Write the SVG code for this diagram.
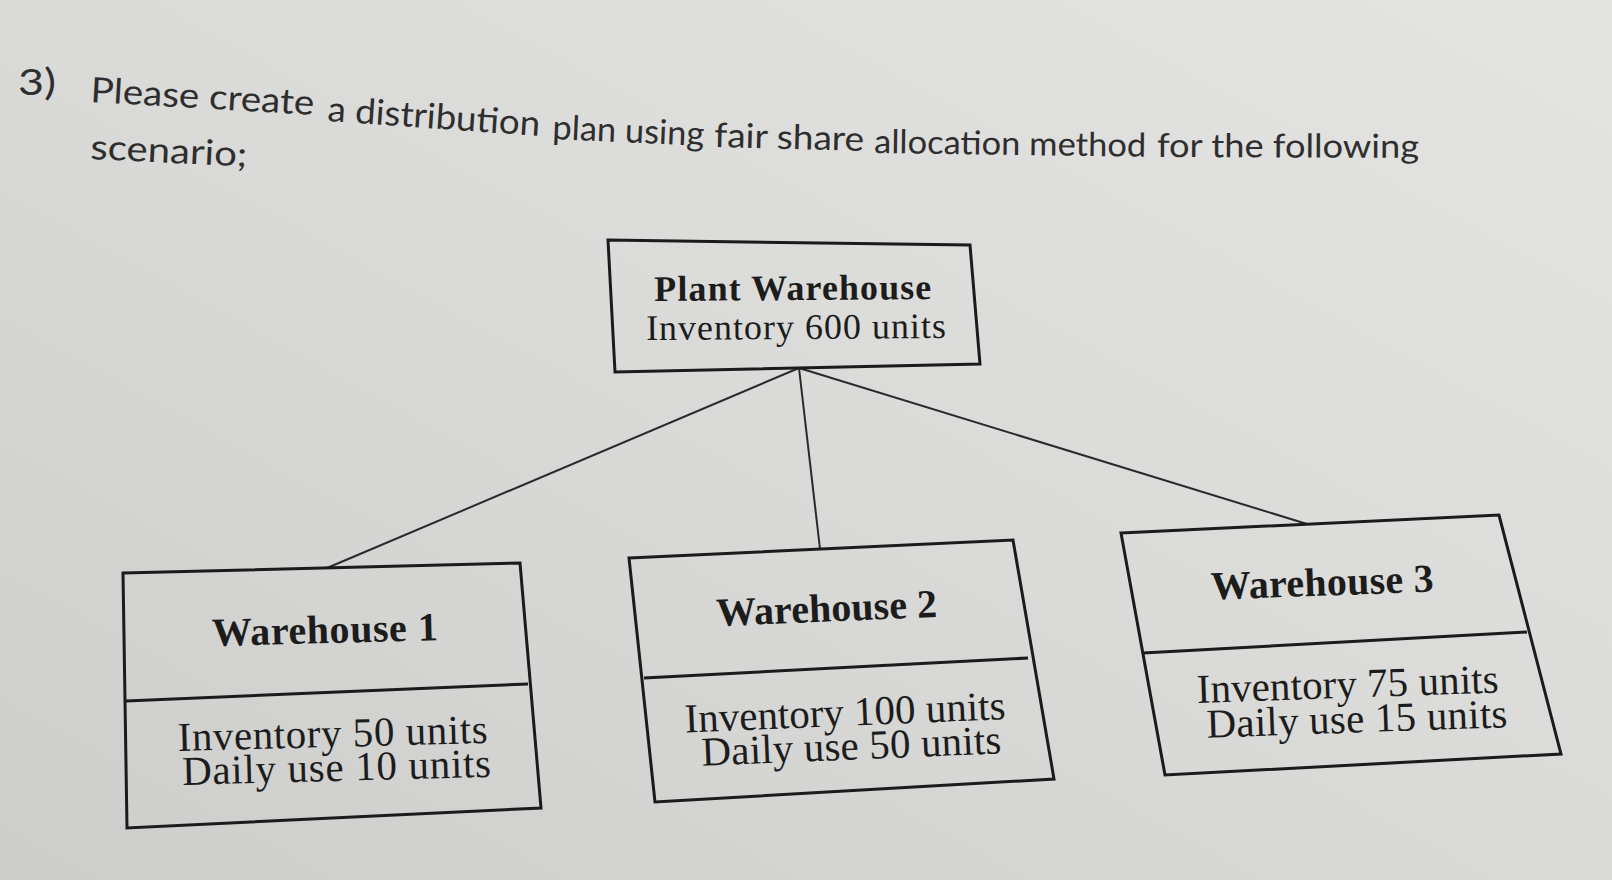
<svg xmlns="http://www.w3.org/2000/svg" width="1612" height="880" viewBox="0 0 1612 880">
  <defs>
    <linearGradient id="page" x1="1" y1="0" x2="0" y2="1">
      <stop offset="0" stop-color="#e4e4e2"/>
      <stop offset="0.5" stop-color="#dadad8"/>
      <stop offset="1" stop-color="#cdcdcb"/>
    </linearGradient>
  </defs>
  <style>
    .box { fill: none; stroke: #1b1b1b; stroke-width: 3; stroke-linejoin: miter; }
    .div { fill: none; stroke: #1b1b1b; stroke-width: 3; }
    .conn { fill: none; stroke: #2a2a2a; stroke-width: 2; }
    .title { font-family: Lato, "Open Sans", "Liberation Sans", sans-serif; fill: #2e2e2e; }
    .head { font-family: "Liberation Serif", "Times New Roman", serif; font-weight: bold; fill: #1c1c1c; text-anchor: middle; }
    .body { font-family: "Liberation Serif", "Times New Roman", serif; fill: #1c1c1c; text-anchor: middle; }
  </style>
  <rect x="0" y="0" width="1612" height="880" fill="url(#page)"/>

  <g id="title">
    <text class="title" x="18" y="95" font-size="37" textLength="38" lengthAdjust="spacingAndGlyphs">3)</text>
    <text class="title" x="90" y="102" font-size="35" textLength="224" lengthAdjust="spacingAndGlyphs" transform="rotate(3.3 90 102)">Please create</text>
    <text class="title" x="327" y="121" font-size="35" textLength="213" lengthAdjust="spacingAndGlyphs" transform="rotate(4 327 121)">a distribution</text>
    <text class="title" x="552" y="139" font-size="34" textLength="152" lengthAdjust="spacingAndGlyphs" transform="rotate(2.6 552 139)">plan using</text>
    <text class="title" x="714" y="147" font-size="34" textLength="150" lengthAdjust="spacingAndGlyphs" transform="rotate(1.5 714 147)">fair share</text>
    <text class="title" x="874" y="153" font-size="33" textLength="272" lengthAdjust="spacingAndGlyphs" transform="rotate(0.8 874 153)">allocation method</text>
    <text class="title" x="1157" y="157" font-size="33" textLength="262" lengthAdjust="spacingAndGlyphs" transform="rotate(0.2 1157 157)">for the following</text>
    <text class="title" x="90" y="159" font-size="35" textLength="157" lengthAdjust="spacingAndGlyphs" transform="rotate(2.8 90 159)">scenario;</text>
  </g>

  <g id="connectors">
    <line class="conn" x1="799" y1="368" x2="327" y2="568"/>
    <line class="conn" x1="799" y1="368" x2="820" y2="549"/>
    <line class="conn" x1="799" y1="368" x2="1307" y2="524"/>
  </g>

  <g id="plant">
    <polygon class="box" points="608,240 970,245 980,364 615,372"/>
    <g transform="rotate(-0.4 795 320)">
      <text class="head" x="793" y="300" font-size="36" textLength="277">Plant Warehouse</text>
      <text class="body" x="796" y="339" font-size="36" textLength="300">Inventory 600 units</text>
    </g>
  </g>

  <g id="warehouse1">
    <polygon class="box" points="123,573 520,563 541,808 127,828"/>
    <line class="div" x1="126" y1="701" x2="528" y2="684"/>
    <g transform="rotate(-1.5 330 710)">
      <text class="head" x="327" y="643" font-size="40" textLength="226">Warehouse 1</text>
      <text class="body" x="332" y="747" font-size="41" textLength="310">Inventory 50 units</text>
      <text class="body" x="335" y="781" font-size="41" textLength="309">Daily use 10 units</text>
    </g>
  </g>

  <g id="warehouse2">
    <polygon class="box" points="629,558 1013,540 1054,779 655,802"/>
    <line class="div" x1="644" y1="678" x2="1028" y2="658"/>
    <g transform="rotate(-2.4 840 690)">
      <text class="head" x="830" y="621" font-size="40" textLength="221">Warehouse 2</text>
      <text class="body" x="844" y="726" font-size="41" textLength="321">Inventory 100 units</text>
      <text class="body" x="849" y="760" font-size="41" textLength="300">Daily use 50 units</text>
    </g>
  </g>

  <g id="warehouse3">
    <polygon class="box" points="1121,533 1499,515 1561,754 1165,775"/>
    <line class="div" x1="1143" y1="653" x2="1527" y2="632"/>
    <g transform="rotate(-2 1340 665)">
      <text class="head" x="1325" y="595" font-size="40" textLength="223">Warehouse 3</text>
      <text class="body" x="1347" y="698" font-size="41" textLength="302">Inventory 75 units</text>
      <text class="body" x="1355" y="733" font-size="41" textLength="301">Daily use 15 units</text>
    </g>
  </g>
</svg>
